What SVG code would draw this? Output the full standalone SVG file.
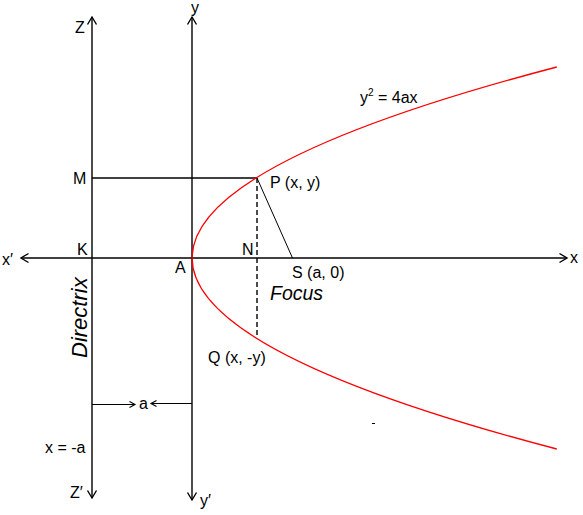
<svg xmlns="http://www.w3.org/2000/svg" width="583" height="515" viewBox="0 0 583 515">
<style>
  .ax { stroke: #000; stroke-width: 1.4; fill: none; }
  .thin { stroke: #000; stroke-width: 1; fill: none; }
  .lbl { font-family: "Liberation Sans", Arial, sans-serif; font-size: 16px; fill: #000; }
  .it { font-family: "Liberation Sans", Arial, sans-serif; font-style: italic; fill: #000; }
</style>
<defs>
  <marker id="arr" markerUnits="userSpaceOnUse" markerWidth="10" markerHeight="10" refX="7.5" refY="4.5" orient="auto" overflow="visible">
    <path d="M0,0 L7.5,4.5 L0,9" fill="none" stroke="#000" stroke-width="1.4"/>
  </marker>
  <marker id="arrs" markerUnits="userSpaceOnUse" markerWidth="8" markerHeight="8" refX="5.5" refY="3" orient="auto" overflow="visible">
    <path d="M0,0 L5.5,3 L0,6" fill="none" stroke="#000" stroke-width="1.1"/>
  </marker>
</defs>
<rect width="583" height="515" fill="#fff"/>
<g id="connectors">
  <line id="x-axis" class="ax" x1="300" y1="258" x2="567" y2="258" marker-end="url(#arr)"/>
  <line id="x-axis-neg" class="ax" x1="300" y1="258" x2="21" y2="258" marker-end="url(#arr)"/>
  <line id="y-axis" class="ax" x1="192" y1="258" x2="192" y2="17" marker-end="url(#arr)"/>
  <line id="y-axis-neg" class="ax" x1="192" y1="258" x2="192" y2="500" marker-end="url(#arr)"/>
  <line id="directrix-up" class="ax" x1="92" y1="258" x2="92" y2="17" marker-end="url(#arr)"/>
  <line id="directrix-down" class="ax" x1="92" y1="258" x2="92" y2="498" marker-end="url(#arr)"/>
  <line id="PM" class="ax" x1="92" y1="178" x2="257" y2="178"/>
  <line id="PN" class="ax" x1="257" y1="178" x2="257" y2="338" stroke-dasharray="5,3"/>
  <line id="PS" class="thin" x1="257" y1="178" x2="292.5" y2="258"/>
  <line id="a-right" class="thin" x1="92" y1="404.5" x2="135" y2="404.5" stroke-width="1.2" marker-end="url(#arrs)"/>
  <line id="a-left" class="thin" x1="192" y1="403.5" x2="151" y2="403.5" stroke-width="1.2" marker-end="url(#arrs)"/>
  <path id="parabola" d="M556.8,67 Q-172.6,258 556.8,449" fill="none" stroke="#ff0000" stroke-width="1.3"/>
  <line id="stray" x1="372" y1="423.5" x2="375" y2="423.5" stroke="#000" stroke-width="1"/>
</g>
<g id="labels">
  <text id="t-Z" class="lbl" x="75" y="33">Z</text>
  <text id="t-y" class="lbl" x="191" y="12.5">y</text>
  <text id="t-x" class="lbl" x="570" y="263">x</text>
  <text id="t-M" class="lbl" x="73" y="184">M</text>
  <text id="t-P" class="lbl" x="270" y="188">P (x, y)</text>
  <text id="t-eq" class="lbl" x="360" y="103">y<tspan font-size="10" dy="-7">2</tspan><tspan dy="7"> = 4ax</tspan></text>
  <text id="t-xp" class="lbl" x="2" y="265">x′</text>
  <text id="t-K" class="lbl" x="77" y="255">K</text>
  <text id="t-N" class="lbl" x="242" y="255">N</text>
  <text id="t-A" class="lbl" x="175" y="273">A</text>
  <text id="t-S" class="lbl" x="292" y="278">S (a, 0)</text>
  <text id="t-focus" class="it" x="270" y="300" font-size="19.5">Focus</text>
  <text id="t-dir" class="it" font-size="22" transform="translate(87,358) rotate(-90)">Directrix</text>
  <text id="t-Q" class="lbl" x="208" y="363">Q (x, -y)</text>
  <text id="t-a" class="lbl" x="139" y="409">a</text>
  <text id="t-xa" class="lbl" x="45" y="453">x = -a</text>
  <text id="t-Zp" class="lbl" x="70" y="498">Z′</text>
  <text id="t-yp" class="lbl" x="200" y="506">y′</text>
</g>
</svg>
